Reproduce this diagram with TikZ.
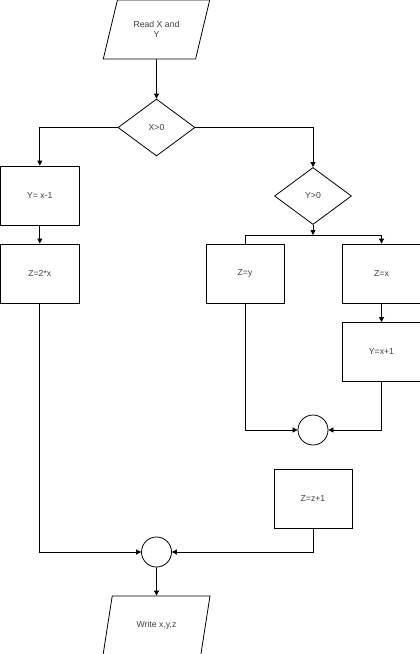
\documentclass[tikz,border=0pt]{standalone}
\usepackage{fontspec}
\setmainfont{Liberation Sans}
\usetikzlibrary{shapes.geometric,arrows.meta}
\begin{document}
\begin{tikzpicture}[x=1pt,y=-1pt,
  every node/.style={font=\fontsize{8.7}{10}\selectfont, text=black!75, line width=0.8pt},
  proc/.style={draw, rectangle, minimum width=78pt, minimum height=59pt, inner sep=0pt},
  dec/.style={draw, diamond, aspect=1.35, minimum width=77pt, minimum height=57pt, inner sep=0pt},
  io/.style={draw, trapezium, trapezium left angle=63, trapezium right angle=117, trapezium stretches=true, minimum width=107pt, minimum height=59pt, inner sep=0pt, align=center},
  conn/.style={draw, circle, minimum size=30pt, inner sep=0pt},
  arr/.style={-{Triangle[length=5pt,width=5pt]}},
  line/.style={line width=0.8pt}
]
\useasboundingbox (0,0) rectangle (420,654);
\clip (0,0) rectangle (420,654);
\node[io] (read) at (156.5,29.5) {Read X and\\Y};
\node[dec] (d1) at (156.5,127.5) {X>0};
\node[proc, minimum width=78.5pt] (b1) at (39.8,195.5) {Y= x-1};
\node[proc, minimum width=78.5pt] (b2) at (39.8,273.5) {Z=2*x};
\node[dec] (d2) at (313,196) {Y>0};
\node[proc] (b3) at (245,273.5) {Z=y};
\node[proc] (b4) at (381.5,273.5) {Z=x};
\node[proc] (b5) at (381.5,352) {Y=x+1};
\node[conn] (c1) at (313,430) {};
\node[proc] (b6) at (313,498.5) {Z=z+1};
\node[conn] (c2) at (156.5,552) {};
\node[io] (write) at (156.5,625.5) {Write x,y,z};
\coordinate (j) at (313,235);
\begin{scope}[line]
\draw[arr] (read.south) -- (d1.north);
\draw[arr] (d1.west) -| (b1.north);
\draw[arr] (d1.east) -| (d2.north);
\draw[arr] (b1.south) -- (b2.north);
\draw[arr] (d2.south) -- (j);
\draw (b3.north) |- (j);
\draw[arr] (j) -| (b4.north);
\draw[arr] (b4.south) -- (b5.north);
\draw[arr] (b3.south) |- (c1.west);
\draw[arr] (b5.south) |- (c1.east);
\draw[arr] (b2.south) |- (c2.west);
\draw[arr] (b6.south) |- (c2.east);
\draw[arr] (c2.south) -- (write.north);
\end{scope}
\end{tikzpicture}
\end{document}
